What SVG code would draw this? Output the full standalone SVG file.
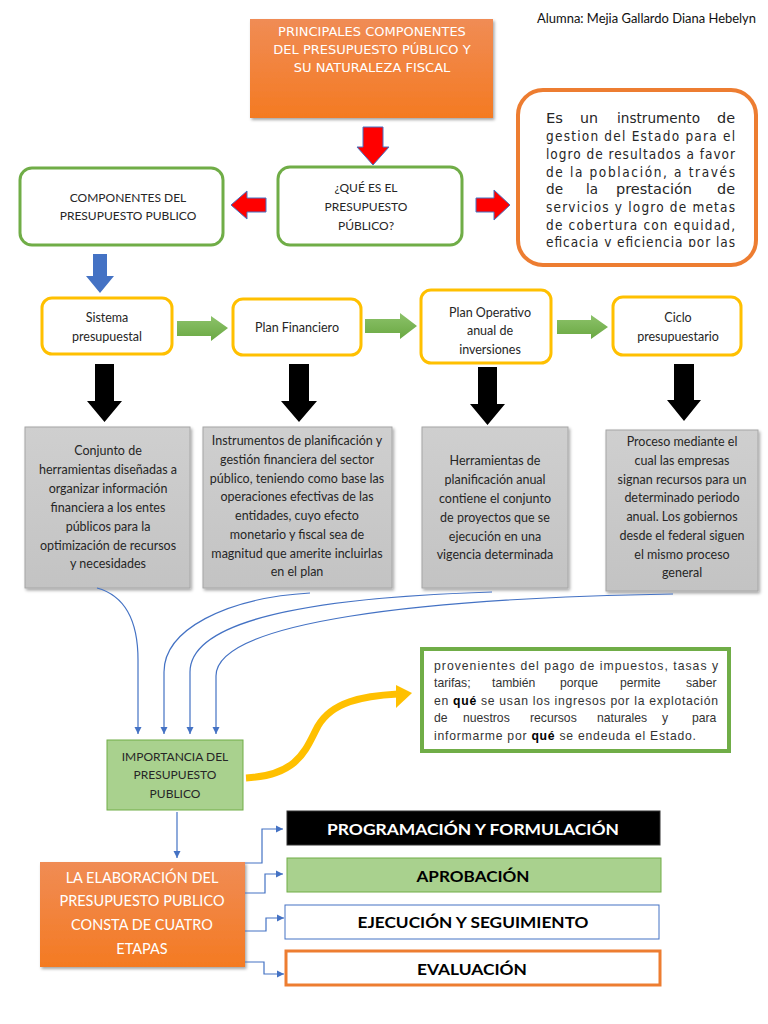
<svg xmlns="http://www.w3.org/2000/svg" width="768" height="1024" viewBox="0 0 768 1024">
<style>
.cal{font-family:Lato,"Open Sans","Liberation Sans",sans-serif;}
.dv{font-family:"DejaVu Sans","Liberation Sans",sans-serif;}
.dvc{font-family:"DejaVu Sans Condensed","DejaVu Sans",sans-serif;font-stretch:condensed;}
.ar{font-family:"Liberation Sans",Arial,sans-serif;}
.g{font-size:12.5px;fill:#262626;text-anchor:middle;}
.y{font-size:12.5px;fill:#262626;text-anchor:middle;}
.grn{fill:#fff;stroke:#70AD47;stroke-width:3;}
.yel{fill:#fff;stroke:#FFC000;stroke-width:3;}
.gray{fill:url(#grayG);stroke:#A6A6A6;stroke-width:1;}
.blk{fill:#000;}
.red{fill:#FF0000;stroke:#4472C4;stroke-width:1;}
.gar{fill:url(#greenG);}
.bl{fill:none;stroke:#4472C4;stroke-width:1.2;}
.stage{font-size:16px;font-weight:bold;text-anchor:middle;}
</style>
<defs>
<linearGradient id="orG" x1="0" y1="0" x2="0" y2="1"><stop offset="0" stop-color="#F08C55"/><stop offset="1" stop-color="#F47A22"/></linearGradient>
<linearGradient id="grayG" x1="0" y1="0" x2="0" y2="1"><stop offset="0" stop-color="#CFCFCF"/><stop offset="1" stop-color="#C3C3C3"/></linearGradient>
<linearGradient id="greenG" x1="0" y1="0" x2="0" y2="1"><stop offset="0" stop-color="#8CC26A"/><stop offset="1" stop-color="#6AA842"/></linearGradient>
<filter id="sh" x="-10%" y="-10%" width="125%" height="130%"><feDropShadow dx="1.5" dy="2" stdDeviation="1.5" flood-color="#000" flood-opacity="0.35"/></filter>
<marker id="ah" markerWidth="8" markerHeight="8" refX="7" refY="4" orient="auto" markerUnits="userSpaceOnUse"><path d="M0,0.5 L7,4 L0,7.5 Z" fill="#4472C4"/></marker>
<clipPath id="clipR"><rect x="530" y="100" width="220" height="147"/></clipPath>
</defs>

<rect width="768" height="1024" fill="#fff"/>

<text class="cal" x="537" y="23" font-size="12.5" fill="#111" textLength="219" lengthAdjust="spacingAndGlyphs">Alumna: Mejia Gallardo Diana Hebelyn</text>

<g id="title">
<rect x="250" y="19" width="243" height="99" fill="url(#orG)" filter="url(#sh)"/>
<g class="dv" font-size="13" fill="#fff" text-anchor="middle">
<text x="372" y="36">PRINCIPALES COMPONENTES</text>
<text x="372" y="54">DEL PRESUPUESTO PÚBLICO Y</text>
<text x="372" y="72">SU NATURALEZA FISCAL</text>
</g>
</g>

<g id="que-es">
<rect class="grn" x="278" y="167" width="184" height="78" rx="12"/>
<g class="cal" font-size="12" fill="#262626" text-anchor="middle">
<text x="366" y="192">¿QUÉ ES EL</text>
<text x="366" y="211">PRESUPUESTO</text>
<text x="366" y="230">PÚBLICO?</text>
</g>
</g>

<g id="componentes">
<rect class="grn" x="20" y="168" width="203" height="77" rx="12"/>
<g class="cal" font-size="12" fill="#262626" text-anchor="middle">
<text x="128" y="202">COMPONENTES DEL</text>
<text x="128" y="220">PRESUPUESTO PUBLICO</text>
</g>
</g>

<g id="definicion">
<rect x="518" y="90" width="238" height="175" rx="25" fill="#fff" stroke="#ED7D31" stroke-width="4"/>
<g class="dvc" font-size="13.5" fill="#262626" clip-path="url(#clipR)">
<text x="546" y="123" textLength="17" lengthAdjust="spacingAndGlyphs">Es</text>
<text x="580" y="123" textLength="18" lengthAdjust="spacingAndGlyphs">un</text>
<text x="617" y="123" textLength="83" lengthAdjust="spacingAndGlyphs">instrumento</text>
<text x="717" y="123" textLength="18" lengthAdjust="spacingAndGlyphs">de</text>
<text x="546" y="141" textLength="189" lengthAdjust="spacing">gestion del Estado para el</text>
<text x="546" y="159" textLength="189" lengthAdjust="spacing">logro de resultados a favor</text>
<text x="546" y="177" textLength="189" lengthAdjust="spacing">de la población, a través</text>
<text x="546" y="194" textLength="17" lengthAdjust="spacingAndGlyphs">de</text>
<text x="586" y="194" textLength="12" lengthAdjust="spacingAndGlyphs">la</text>
<text x="616" y="194" textLength="76" lengthAdjust="spacingAndGlyphs">prestación</text>
<text x="717" y="194" textLength="18" lengthAdjust="spacingAndGlyphs">de</text>
<text x="546" y="212" textLength="189" lengthAdjust="spacing">servicios y logro de metas</text>
<text x="546" y="230" textLength="189" lengthAdjust="spacing">de cobertura con equidad,</text>
<text x="546" y="247" textLength="189" lengthAdjust="spacing">eficacia y eficiencia por las</text>
</g>
</g>

<g id="sistema">
<rect class="yel" x="42" y="298" width="130" height="56" rx="10"/>
<text class="cal y" x="107" y="322">Sistema</text>
<text class="cal y" x="107" y="341">presupuestal</text>
</g>
<g id="plan-financiero">
<rect class="yel" x="233" y="299" width="128" height="56" rx="10"/>
<text class="cal y" x="297" y="332">Plan Financiero</text>
</g>
<g id="plan-operativo">
<rect class="yel" x="421" y="290" width="130" height="73" rx="10"/>
<text class="cal y" x="490" y="317">Plan Operativo</text>
<text class="cal y" x="490" y="335">anual de</text>
<text class="cal y" x="490" y="354">inversiones</text>
</g>
<g id="ciclo">
<rect class="yel" x="613" y="297" width="128" height="58" rx="10"/>
<text class="cal y" x="678" y="322">Ciclo</text>
<text class="cal y" x="678" y="341">presupuestario</text>
</g>

<g id="desc-sistema">
<rect class="gray" x="25" y="427" width="165" height="161" filter="url(#sh)"/>
<g class="cal g">
<text x="108" y="455">Conjunto de</text>
<text x="108" y="474">herramientas diseñadas a</text>
<text x="108" y="493">organizar información</text>
<text x="108" y="512">financiera a los entes</text>
<text x="108" y="531">públicos para la</text>
<text x="108" y="550">optimización de recursos</text>
<text x="108" y="568">y necesidades</text>
</g>
</g>
<g id="desc-financiero">
<rect class="gray" x="203" y="427" width="189" height="161" filter="url(#sh)"/>
<g class="cal g">
<text x="297" y="445">Instrumentos de planificación y</text>
<text x="297" y="464">gestión financiera del sector</text>
<text x="297" y="483">público, teniendo como base las</text>
<text x="297" y="501">operaciones efectivas de las</text>
<text x="297" y="520">entidades, cuyo efecto</text>
<text x="297" y="539">monetario y fiscal sea de</text>
<text x="297" y="558">magnitud que amerite incluirlas</text>
<text x="297" y="576">en el plan</text>
</g>
</g>
<g id="desc-operativo">
<rect class="gray" x="422" y="427" width="146" height="161" filter="url(#sh)"/>
<g class="cal g">
<text x="495" y="465">Herramientas de</text>
<text x="495" y="484">planificación anual</text>
<text x="495" y="503">contiene el conjunto</text>
<text x="495" y="522">de proyectos que se</text>
<text x="495" y="541">ejecución en una</text>
<text x="495" y="559">vigencia determinada</text>
</g>
</g>
<g id="desc-ciclo">
<rect class="gray" x="606" y="430" width="152" height="161" filter="url(#sh)"/>
<g class="cal g">
<text x="682" y="446">Proceso mediante el</text>
<text x="682" y="465">cual las empresas</text>
<text x="682" y="484">signan recursos para un</text>
<text x="682" y="502">determinado periodo</text>
<text x="682" y="521">anual. Los gobiernos</text>
<text x="682" y="540">desde el federal siguen</text>
<text x="682" y="559">el mismo proceso</text>
<text x="682" y="577">general</text>
</g>
</g>

<g id="importancia">
<rect x="107" y="740" width="136" height="70" fill="#A9D18E" stroke="#70AD47" stroke-width="1"/>
<g class="cal" font-size="12" fill="#262626" text-anchor="middle">
<text x="175" y="761">IMPORTANCIA DEL</text>
<text x="175" y="779">PRESUPUESTO</text>
<text x="175" y="798">PUBLICO</text>
</g>
</g>

<g id="importancia-texto">
<rect x="422" y="649" width="307" height="102" fill="#fff" stroke="#70AD47" stroke-width="4"/>
<g class="ar" font-size="12.2" fill="#333">
<text x="434" y="670" textLength="284" lengthAdjust="spacing">provenientes del pago de impuestos, tasas y</text>
<text y="687"><tspan x="434">tarifas;</tspan><tspan x="492">también</tspan><tspan x="560">porque</tspan><tspan x="620">permite</tspan><tspan x="686">saber</tspan></text>
<text x="434" y="705" textLength="284" lengthAdjust="spacing">en <tspan font-weight="bold" fill="#000">qué</tspan> se usan los ingresos por la explotación</text>
<text y="722"><tspan x="434">de</tspan><tspan x="463">nuestros</tspan><tspan x="530">recursos</tspan><tspan x="597">naturales</tspan><tspan x="662">y</tspan><tspan x="692">para</tspan></text>
<text x="434" y="740" textLength="262" lengthAdjust="spacing">informarme por <tspan font-weight="bold" fill="#000">qué</tspan> se endeuda el Estado.</text>
</g>
</g>

<g id="elaboracion">
<rect x="40" y="862" width="205" height="105" fill="url(#orG)" filter="url(#sh)"/>
<g class="cal" font-size="14.5" fill="#fff" text-anchor="middle">
<text x="142" y="883">LA ELABORACIÓN DEL</text>
<text x="142" y="906">PRESUPUESTO PUBLICO</text>
<text x="142" y="930">CONSTA DE CUATRO</text>
<text x="142" y="954">ETAPAS</text>
</g>
</g>

<g id="programacion">
<rect x="287" y="811" width="373" height="34" fill="#000" stroke="#333" stroke-width="1"/>
<text class="cal stage" x="473" y="835" fill="#fff" textLength="292" lengthAdjust="spacingAndGlyphs">PROGRAMACIÓN Y FORMULACIÓN</text>
</g>
<g id="aprobacion">
<rect x="287" y="858" width="374" height="34" fill="#A9D18E" stroke="#70AD47" stroke-width="1"/>
<text class="cal stage" x="473" y="882" fill="#000" textLength="113" lengthAdjust="spacingAndGlyphs">APROBACIÓN</text>
</g>
<g id="ejecucion">
<rect x="285" y="905" width="374" height="34" fill="#fff" stroke="#4472C4" stroke-width="1"/>
<text class="cal stage" x="473" y="928" fill="#000" textLength="231" lengthAdjust="spacingAndGlyphs">EJECUCIÓN Y SEGUIMIENTO</text>
</g>
<g id="evaluacion">
<rect x="286" y="951" width="374" height="34" fill="#fff" stroke="#ED7D31" stroke-width="3"/>
<text class="cal stage" x="472" y="975" fill="#000" textLength="110" lengthAdjust="spacingAndGlyphs">EVALUACIÓN</text>
</g>

<g id="connectors">
<polygon class="red" points="363,127 383,127 383,147 389,147 373,165 357,147 363,147"/>
<polygon class="red" points="266,198 247,198 247,191 231,205 247,219 247,212 266,212"/>
<polygon class="red" points="476,198 494,198 494,190 510,205 494,220 494,212 476,212"/>
<polygon fill="#4472C4" points="93,254 107,254 107,276 114,276 100,293 86,276 93,276"/>
<polygon class="gar" points="177,321 211,321 211,316 228,328 211,341 211,336 177,336"/>
<polygon class="gar" points="365,319 400,319 400,313 417,326 400,339 400,333 365,333"/>
<polygon class="gar" points="557,320 591,320 591,315 608,327 591,339 591,334 557,334"/>
<polygon class="blk" points="95,364 114,364 114,401 122,401 104.5,422 87,401 95,401"/>
<polygon class="blk" points="289,364 309,364 309,401 317,401 299,422 281,401 289,401"/>
<polygon class="blk" points="478,367 497,367 497,404 505,404 487.5,425 470,404 478,404"/>
<polygon class="blk" points="674,364 694,364 694,400 701,400 684,421 667,400 674,400"/>
<path class="bl" d="M97,588 C126,596 138,622 138,660 L138,734" marker-end="url(#ah)"/>
<path class="bl" d="M310,593 C225,598 164,630 164,672 L164,734" marker-end="url(#ah)"/>
<path class="bl" d="M492,592 C300,598 190,622 190,672 L190,734" marker-end="url(#ah)"/>
<path class="bl" d="M673,594 C420,598 216,622 216,676 L216,734" marker-end="url(#ah)"/>
<path d="M246,778 C300,775 306,748 318,726 C332,702 362,696 398,694" fill="none" stroke="#FFC000" stroke-width="7"/>
<polygon fill="#FFC000" points="396,685 412,693 396,708"/>
<path class="bl" d="M177,812 L177,858" marker-end="url(#ah)"/>
<path class="bl" d="M245,863 L262,863 L262,829 L283,829" marker-end="url(#ah)"/>
<path class="bl" d="M245,893 L265,893 L265,874 L283,874" marker-end="url(#ah)"/>
<path class="bl" d="M245,931 L266,931 L266,918 L284,918" marker-end="url(#ah)"/>
<path class="bl" d="M245,962 L264,962 L264,974 L284,974" marker-end="url(#ah)"/>
</g>
</svg>
